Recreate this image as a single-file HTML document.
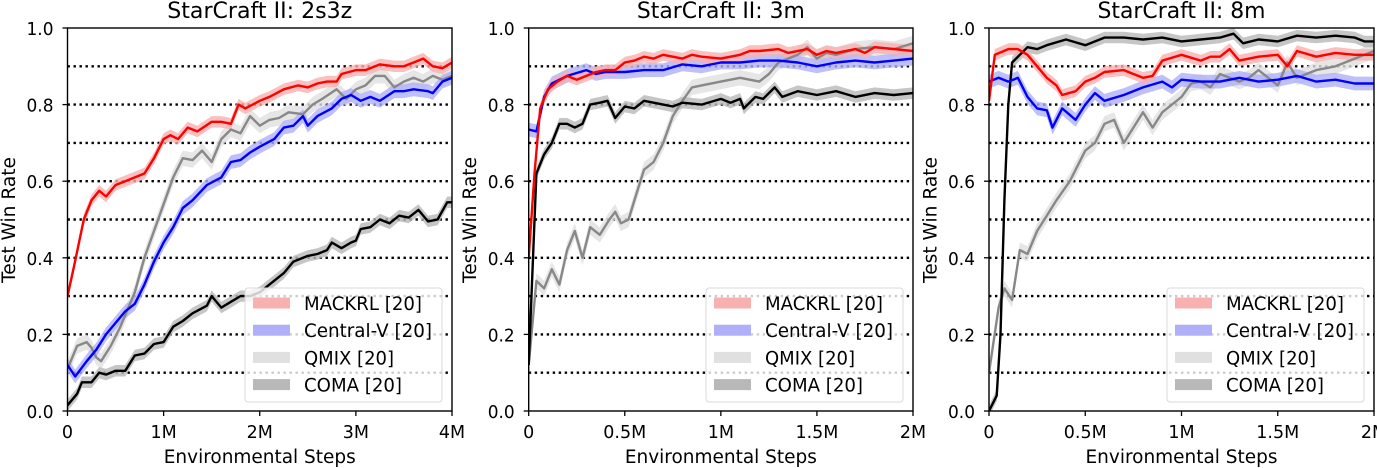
<!DOCTYPE html>
<html><head><meta charset="utf-8"><style>
body{margin:0;background:#fff}
svg{display:block;font-family:"DejaVu Sans","Liberation Sans",sans-serif}
</style></head><body>
<svg id="s" width="1377" height="468" xmlns="http://www.w3.org/2000/svg"></svg>
<script>
const S=document.getElementById('s');let h='';
const panels=[
{x0:67.5,x1:452,xmax:4,title:'StarCraft II: 2s3z',tw:185,ticks:[[0,'0'],[1,'1M'],[2,'2M'],[3,'3M'],[4,'4M']],
d:{
M:[[0,.30],[.07,.38],[.17,.50],[.25,.55],[.33,.575],[.4,.56],[.5,.59],[.6,.60],[.7,.61],[.8,.62],[.9,.66],[1.0,.71],[1.07,.72],[1.15,.71],[1.25,.74],[1.35,.73],[1.5,.755],[1.6,.755],[1.7,.75],[1.78,.80],[1.85,.79],[2.0,.81],[2.1,.82],[2.25,.84],[2.4,.85],[2.5,.845],[2.6,.855],[2.7,.86],[2.8,.86],[2.85,.88],[3.0,.89],[3.1,.89],[3.25,.905],[3.4,.90],[3.5,.90],[3.6,.91],[3.7,.92],[3.8,.90],[3.9,.895],[4.0,.91]],
C:[[0,.12],[.08,.09],[.2,.13],[.3,.16],[.4,.20],[.5,.23],[.6,.26],[.7,.28],[.8,.33],[.9,.39],[1.0,.44],[1.1,.48],[1.2,.53],[1.3,.55],[1.45,.59],[1.6,.61],[1.7,.65],[1.8,.655],[1.9,.675],[2.0,.69],[2.15,.71],[2.25,.74],[2.35,.745],[2.45,.77],[2.5,.745],[2.6,.77],[2.75,.79],[2.85,.815],[2.95,.825],[3.05,.81],[3.15,.82],[3.25,.81],[3.4,.835],[3.5,.835],[3.6,.84],[3.75,.835],[3.8,.83],[3.9,.86],[4.0,.87]],
Q:[[0,.11],[.1,.17],[.15,.175],[.2,.18],[.25,.165],[.3,.14],[.35,.13],[.45,.17],[.55,.22],[.7,.31],[.8,.40],[.9,.47],[1.0,.54],[1.1,.61],[1.2,.66],[1.3,.655],[1.4,.68],[1.5,.65],[1.6,.71],[1.7,.735],[1.8,.725],[1.9,.77],[2.0,.745],[2.1,.76],[2.2,.765],[2.3,.78],[2.45,.775],[2.55,.80],[2.65,.815],[2.8,.84],[2.9,.815],[3.0,.84],[3.1,.85],[3.2,.875],[3.3,.875],[3.4,.845],[3.5,.86],[3.6,.87],[3.7,.86],[3.8,.875],[3.9,.865],[4.0,.875]],
K:[[0,.015],[.1,.045],[.15,.075],[.25,.075],[.33,.10],[.4,.095],[.5,.105],[.6,.105],[.7,.145],[.8,.15],[.9,.175],[1.0,.18],[1.1,.22],[1.2,.235],[1.3,.255],[1.45,.275],[1.5,.30],[1.6,.27],[1.7,.285],[1.8,.30],[1.9,.30],[2.0,.31],[2.1,.33],[2.25,.36],[2.35,.39],[2.5,.405],[2.6,.41],[2.7,.42],[2.75,.44],[2.85,.425],[2.95,.44],[3.0,.445],[3.05,.475],[3.15,.48],[3.25,.50],[3.35,.49],[3.45,.51],[3.55,.505],[3.65,.525],[3.75,.495],[3.85,.50],[3.95,.545],[4.0,.545]]}},
{x0:528.7,x1:913,xmax:2,title:'StarCraft II: 3m',tw:168,ticks:[[0,'0'],[.5,'0.5M'],[1,'1M'],[1.5,'1.5M'],[2,'2M']],
d:{
M:[[0,.40],[.03,.62],[.06,.79],[.1,.84],[.15,.86],[.2,.875],[.25,.865],[.3,.875],[.35,.885],[.4,.89],[.45,.89],[.5,.91],[.55,.915],[.6,.925],[.65,.92],[.7,.93],[.8,.92],[.85,.93],[.9,.925],[1.0,.92],[1.1,.93],[1.15,.94],[1.2,.94],[1.3,.945],[1.35,.935],[1.45,.945],[1.5,.93],[1.55,.94],[1.6,.935],[1.7,.945],[1.75,.935],[1.8,.95],[1.9,.945],[2.0,.94]],
C:[[0,.735],[.04,.73],[.08,.82],[.12,.855],[.2,.875],[.3,.89],[.35,.88],[.4,.885],[.5,.885],[.6,.89],[.7,.89],[.8,.905],[.9,.9],[1.0,.91],[1.1,.91],[1.2,.915],[1.3,.915],[1.4,.91],[1.5,.90],[1.6,.91],[1.7,.915],[1.8,.91],[1.9,.915],[2.0,.92]],
Q:[[0,.12],[.04,.34],[.08,.32],[.12,.37],[.16,.33],[.2,.42],[.24,.47],[.28,.40],[.32,.48],[.37,.46],[.42,.50],[.45,.52],[.48,.49],[.52,.50],[.55,.55],[.6,.63],[.65,.65],[.7,.70],[.75,.77],[.8,.81],[.85,.845],[.9,.85],[1.0,.86],[1.05,.865],[1.1,.87],[1.15,.865],[1.2,.86],[1.25,.88],[1.3,.91],[1.35,.92],[1.4,.93],[1.45,.95],[1.5,.92],[1.55,.935],[1.6,.93],[1.7,.945],[1.8,.95],[1.9,.945],[2.0,.96]],
K:[[0,.12],[.04,.62],[.08,.67],[.12,.70],[.16,.75],[.2,.75],[.24,.74],[.28,.75],[.32,.80],[.37,.805],[.41,.81],[.45,.765],[.5,.795],[.55,.79],[.6,.81],[.7,.80],[.75,.795],[.8,.805],[.9,.80],[1.0,.815],[1.05,.805],[1.1,.815],[1.12,.79],[1.18,.82],[1.22,.815],[1.28,.845],[1.32,.82],[1.4,.835],[1.5,.825],[1.6,.835],[1.7,.82],[1.8,.83],[1.9,.825],[2.0,.83]]}},
{x0:989,x1:1374,xmax:2,title:'StarCraft II: 8m',tw:168,ticks:[[0,'0'],[.5,'0.5M'],[1,'1M'],[1.5,'1.5M'],[2,'2M']],
d:{
M:[[0,.81],[.03,.93],[.1,.945],[.15,.945],[.2,.93],[.25,.90],[.3,.87],[.35,.85],[.38,.825],[.45,.835],[.5,.86],[.55,.87],[.6,.885],[.7,.89],[.75,.88],[.8,.87],[.85,.875],[.9,.915],[1.0,.93],[1.1,.915],[1.15,.925],[1.2,.925],[1.25,.945],[1.3,.915],[1.4,.925],[1.5,.93],[1.55,.90],[1.6,.94],[1.7,.925],[1.8,.935],[1.9,.93],[2.0,.93]],
C:[[0,.86],[.05,.87],[.1,.86],[.15,.87],[.2,.82],[.25,.79],[.3,.785],[.33,.74],[.38,.79],[.45,.76],[.5,.80],[.55,.83],[.6,.81],[.7,.825],[.8,.845],[.9,.86],[.95,.845],[1.0,.865],[1.1,.86],[1.2,.86],[1.3,.87],[1.4,.86],[1.5,.865],[1.6,.875],[1.7,.86],[1.8,.865],[1.9,.855],[2.0,.855]],
Q:[[0,.10],[.05,.27],[.08,.32],[.12,.29],[.16,.42],[.2,.41],[.25,.47],[.3,.51],[.35,.55],[.42,.60],[.5,.68],[.55,.70],[.6,.75],[.65,.76],[.7,.70],[.75,.74],[.8,.78],[.85,.74],[.9,.78],[1.0,.82],[1.05,.855],[1.1,.86],[1.15,.845],[1.2,.88],[1.25,.87],[1.3,.86],[1.35,.87],[1.4,.89],[1.5,.85],[1.55,.91],[1.6,.87],[1.7,.89],[1.8,.90],[1.9,.92],[2.0,.94]],
K:[[0,0],[.04,.04],[.06,.2],[.08,.55],[.1,.80],[.12,.91],[.2,.95],[.25,.945],[.3,.955],[.4,.97],[.5,.955],[.6,.975],[.7,.975],[.8,.97],[.9,.975],[1.0,.965],[1.1,.97],[1.2,.975],[1.27,.985],[1.32,.96],[1.4,.97],[1.5,.965],[1.6,.98],[1.7,.975],[1.8,.98],[1.9,.975],[1.95,.965],[2.0,.965]]}}
];
const yT=28,yB=411;
const st={M:['#ff0000','#f8b0b0',.015],C:['#0000ff','#b0b0f8',.018],Q:['#888888','#e0e0e0',.02],K:['#000000','#b8b8b8',.015]};
const order=['Q','K','C','M'];
const T=(x,y,s,txt,anc,tl)=>`<text x="${x}" y="${y}" font-size="${s}" text-anchor="${anc}"${tl?` textLength="${tl}" lengthAdjust="spacingAndGlyphs"`:''}>${txt}</text>`;
panels.forEach(p=>{
 const X=v=>p.x0+(p.x1-p.x0)*v/p.xmax, Y=v=>yB-(yB-yT)*v;
 h+=`<clipPath id="c${p.x0|0}"><rect x="${p.x0}" y="${yT}" width="${p.x1-p.x0}" height="${yB-yT}"/></clipPath>`;
 h+=`<g clip-path="url(#c${p.x0|0})">`;
 for(let i=1;i<10;i++){const y=Y(i/10);h+=`<line x1="${p.x0}" x2="${p.x1}" y1="${y}" y2="${y}" stroke="#000" stroke-width="2.4" stroke-dasharray="2.4,3.6"/>`;}
 order.forEach(k=>{const d=p.d[k],[lc,fc,w]=st[k];
  let up=d.map(q=>X(q[0]).toFixed(1)+','+Y(Math.min(1,q[1]+w)).toFixed(1));
  let dn=d.slice().reverse().map(q=>X(q[0]).toFixed(1)+','+Y(q[1]-w).toFixed(1));
  h+=`<polygon points="${up.concat(dn).join(' ')}" fill="${fc}" opacity="0.8"/>`;});
 order.forEach(k=>{const d=p.d[k];
  h+=`<polyline points="${d.map(q=>X(q[0]).toFixed(1)+','+Y(q[1]).toFixed(1)).join(' ')}" fill="none" stroke="${st[k][0]}" stroke-width="2.4" stroke-linejoin="round"/>`;});
 h+='</g>';
 h+=`<rect x="${p.x0}" y="${yT}" width="${p.x1-p.x0}" height="${yB-yT}" fill="none" stroke="#000" stroke-width="1.4"/>`;
 for(let i=0;i<=5;i++){const y=Y(i/5);h+=`<line x1="${p.x0-5}" x2="${p.x0}" y1="${y}" y2="${y}" stroke="#000" stroke-width="1.3"/>`+T(p.x0-14,y+7,17.5,(i/5).toFixed(1),'end',27);}
 p.ticks.forEach(t=>{const x=X(t[0]);h+=`<line x1="${x}" x2="${x}" y1="${yB}" y2="${yB+5}" stroke="#000" stroke-width="1.3"/>`+T(x,438,17.5,t[1],'middle');});
 const cx=(p.x0+p.x1)/2;
 h+=T(cx,18,22,p.title,'middle',p.tw);
 h+=T(cx,463,18.5,'Environmental Steps','middle',192);
 h+=`<text transform="translate(${p.x0-52.5},220) rotate(-90)" font-size="18.5" text-anchor="middle" textLength="126" lengthAdjust="spacingAndGlyphs">Test Win Rate</text>`;
 const lx=p.x1-207;
 h+=`<rect x="${lx}" y="288" width="197" height="114" rx="3" fill="#fff" fill-opacity="0.8" stroke="#d8d8d8"/>`;
 [['M','MACKRL [20]',118],['C','Central-V [20]',128],['Q','QMIX [20]',90],['K','COMA [20]',98]].forEach((e,i)=>{const y=303+i*27.2;
  h+=`<rect x="${lx+8}" y="${y-5.5}" width="37" height="11" fill="${st[e[0]][1]}"/>`+T(lx+59,y+7,19,e[1],'start',e[2]);});
});
S.innerHTML=h;
</script>
</body></html>
